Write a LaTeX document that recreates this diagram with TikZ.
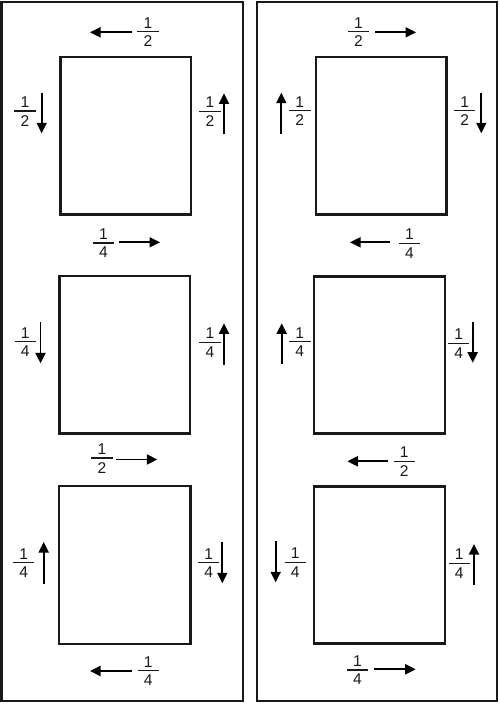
\documentclass[tikz,border=0pt]{standalone}
\usepackage{fontspec}
\setmainfont{Liberation Sans}
\usetikzlibrary{arrows.meta}
\tikzset{
  frame/.style={draw=black!90, line width=2.2pt},
  sq/.style={draw=black!90, line width=2.2pt},
  fbar/.style={draw=black!90, line width=1.4pt},
  dig/.style={inner sep=0pt, font=\fontsize{15.6}{18}\selectfont, text=black!90},
  arr/.style={draw=black, line width=1.9pt, -{Triangle[length=10.5pt,width=10pt]}},
}
\newcommand{\fracat}[5]{%
  \draw[fbar] (#2-10.7,#3) -- (#2+10.7,#3);
  \node[dig] (#1n) at (#2,#3-8.9) {#4};
  \node[dig] (#1d) at (#2,#3+9.6) {#5};}
\newcommand{\arrowat}[5]{%
  \coordinate (#1s) at (#2,#3);
  \coordinate (#1e) at (#4,#5);
  \draw[arr] (#1s) -- (#1e);}
\begin{document}
\begin{tikzpicture}[x=1pt,y=-1pt]
\useasboundingbox (0,0) rectangle (500,704);
% outer frames
\draw[frame] (1.5,2) rectangle (243,701);
\draw[frame] (256.7,2) rectangle (497,701);
% left column squares
\draw[sq] (60.5,57) rectangle (191.3,214.5);
\draw[sq] (59.5,276) rectangle (190.3,433.5);
\draw[sq] (59.3,486) rectangle (190.5,644);
% right column squares
\draw[sq] (315.7,57) rectangle (446.5,214.5);
\draw[sq] (314.3,276.5) rectangle (445.2,433.5);
\draw[sq] (314.3,486.5) rectangle (445.2,643.5);

% ---- left column, row 1
\fracat{a1}{148}{31.7}{1}{2}
\arrowat{aa1}{131.7}{32.3}{90}{32.3}
\fracat{a2}{25}{111}{1}{2}
\arrowat{aa2}{41.7}{92.7}{41.7}{133.3}
\fracat{a3}{210}{111.5}{1}{2}
\arrowat{aa3}{224}{134.3}{224}{93.3}
\fracat{a4}{103.5}{243}{1}{4}
\arrowat{aa4}{119}{242.3}{160}{242.3}
% ---- left column, row 2
\fracat{b2}{25.3}{341.7}{1}{4}
\arrowat{bb2}{40.5}{322.3}{40.5}{363.3}
\fracat{b3}{210}{342.3}{1}{4}
\arrowat{bb3}{224}{365}{224}{323.3}
\fracat{b4}{102}{458}{1}{2}
\arrowat{bb4}{116}{459.5}{157.3}{459.5}
% ---- left column, row 3
\fracat{c2}{23.7}{562.7}{1}{4}
\arrowat{cc2}{43.7}{584}{43.7}{542}
\fracat{c3}{208.7}{562.7}{1}{4}
\arrowat{cc3}{222.3}{541.7}{222.3}{583.3}
\fracat{c4}{148.3}{670.7}{1}{4}
\arrowat{cc4}{131.7}{671}{90}{671}

% ---- right column, row 1
\fracat{d1}{358.5}{31.7}{1}{2}
\arrowat{dd1}{375}{32.3}{416}{32.3}
\fracat{d2}{299.8}{110.7}{1}{2}
\arrowat{dd2}{281.3}{133.7}{281.3}{92.7}
\fracat{d3}{464.7}{110.7}{1}{2}
\arrowat{dd3}{481.3}{92.7}{481.3}{133.3}
\fracat{d4}{409.5}{243.3}{1}{4}
\arrowat{dd4}{390}{242.3}{350}{242.3}
% ---- right column, row 2
\fracat{e2}{299.8}{341.7}{1}{4}
\arrowat{ee2}{281.7}{364.3}{281.7}{323.3}
\fracat{e3}{458.7}{343.3}{1}{4}
\arrowat{ee3}{472.7}{321.7}{472.7}{362.7}
\fracat{e4}{404.2}{461.5}{1}{2}
\arrowat{ee4}{388.3}{461.3}{347.3}{461.3}
% ---- right column, row 3
\fracat{f2}{295.3}{562.3}{1}{4}
\arrowat{ff2}{275.7}{541}{275.7}{582.3}
\fracat{f3}{459.3}{563.3}{1}{4}
\arrowat{ff3}{474}{585}{474}{544}
\fracat{f4}{357.5}{670}{1}{4}
\arrowat{ff4}{374}{669.3}{415.7}{669.3}
\end{tikzpicture}
\end{document}
